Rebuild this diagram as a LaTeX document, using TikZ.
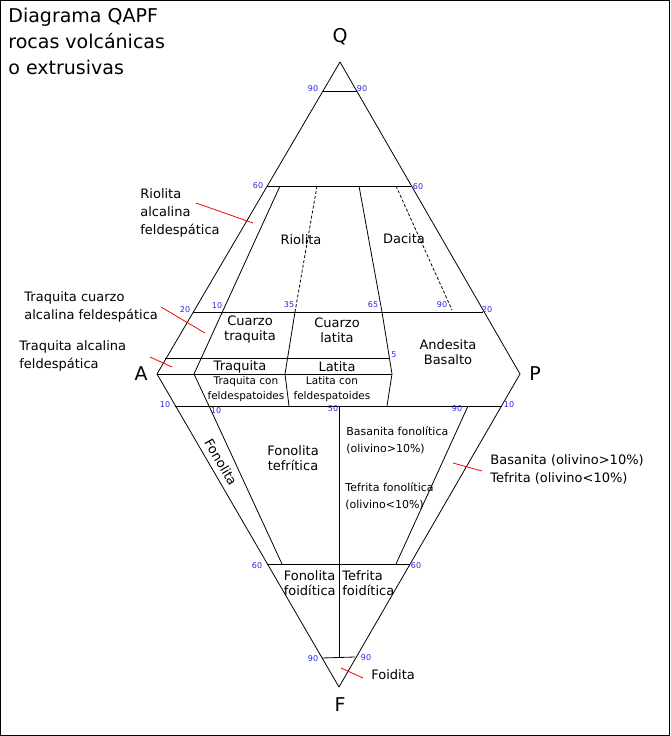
\documentclass[tikz,border=0pt]{standalone}
\usepackage{fontspec}
\setmainfont{DejaVu Sans}
\usetikzlibrary{calc}
\definecolor{numblue}{RGB}{40,40,230}
\begin{document}
\begin{tikzpicture}[
  x=1pt, y=-1pt,
  line join=round, line width=0.8pt,
  field/.style = {font=\fontsize{13}{15}\selectfont, align=center, inner sep=0pt},
  small/.style = {font=\fontsize{10.5}{15}\selectfont, align=center, inner sep=0pt},
  side/.style = {font=\fontsize{13}{18}\selectfont, align=left, anchor=west, inner sep=0pt},
  num/.style = {font=\fontsize{8}{9}\selectfont, text=numblue, inner sep=0pt},
  pole/.style = {font=\fontsize{19}{20}\selectfont, inner sep=0pt},
  pointer/.style = {red, line width=0.8pt},
  subline/.style = {dash pattern=on 3pt off 2pt}
]
  \draw[line width=1pt] (0.5,0.5) rectangle (669.5,735.5);
  \useasboundingbox (0,0) rectangle (670,736);
  % corners
  \coordinate (Q) at (340,62);
  \coordinate (A) at (157,374);
  \coordinate (P) at (520,374);
  \coordinate (F) at (339,687);
  \draw (Q) -- (A) -- (F) -- (P) -- cycle;
  % upper triangle
  \coordinate (q90l) at (323,91);   \coordinate (q90r) at (357,91);
  \coordinate (q60l) at (267,186);  \coordinate (q60r) at (411,186);
  \coordinate (q20l) at (193,312);  \coordinate (q20r) at (483,312);
  \coordinate (b5l) at (165,358);   \coordinate (b5r) at (389,358);
  \coordinate (b0r) at (392,374);
  \draw (q90l) -- (q90r);
  \draw (q60l) -- (q60r);
  \draw (q20l) -- (q20r);
  \draw (b5l) -- (b5r);
  \draw (A) -- (b0r);
  \coordinate (s10t) at (280,186);  \coordinate (s10m) at (194,374);
  \coordinate (s35t) at (295,312);  \coordinate (s35m) at (285,374);
  \coordinate (s65t) at (359,186);  \coordinate (s65m) at (392,374);
  \draw (s10t) -- (s10m);
  \draw (s35t) -- (s35m) -- (289,406);
  \draw (s65t) -- (382,312) -- (s65m) -- (387,406);
  \draw[subline] (317,186) -- (s35t);
  \draw[subline] (396,186) -- (452,310);
  % lower triangle
  \coordinate (f10l) at (175,406);  \coordinate (f10r) at (502,406);
  \coordinate (f60l) at (267,564);  \coordinate (f60r) at (410,564);
  \coordinate (f90l) at (322,658);  \coordinate (f90r) at (355,657);
  \draw (f10l) -- (f10r);
  \draw (f60l) -- (f60r);
  \draw (f90l) -- (f90r);
  \draw (s10m) -- (209,406) -- (282,564);
  \draw (468,406) -- (396,564);
  \draw (339,406) -- (339,658);
  % poles and title
  \node[pole] (nQ) at (340,37) {Q};
  \node[pole] (nA) at (141,374) {A};
  \node[pole] (nP) at (535,374) {P};
  \node[pole] (nF) at (340,705) {F};
  \node[font=\fontsize{19}{26}\selectfont, align=left, anchor=north west, inner sep=0pt] (title) at (8,8)
    {Diagrama QAPF\\rocas volcánicas\\o extrusivas};
  % percentages
  \foreach \x/\y/\t in {313/89/90, 362/89/90, 258/186/60, 418/187/60, 185/310/20, 487/310/20,
      217/306/10, 289/305/35, 373/305/65, 442/305/90, 394/355/5, 165/405/10, 216/411/10,
      333/409/50, 457/409/90, 509/405/10, 257/566/60, 416/566/60, 313/659/90, 366/658/90}
    \node[num] at (\x,\y) {\t};
  % fields
  \node[field] (riolita) at (301,240) {Riolita};
  \node[field] (dacita) at (404,239) {Dacita};
  \node[field] (cztraq) at (250,330) {Cuarzo\\traquita};
  \node[field] (czlat) at (337,330) {Cuarzo\\latita};
  \node[field] (andes) at (448,352) {Andesita\\Basalto};
  \node[field] (traq) at (240,367) {Traquita};
  \node[field] (lat) at (337,367) {Latita};
  \node[small] (traqf) at (246,389) {Traquita con\\feldespatoides};
  \node[small] (latf) at (332,389) {Latita con\\feldespatoides};
  \node[field] (fonteph) at (293,458) {Fonolita\\tefrítica};
  \node[small, font=\fontsize{11}{17}\selectfont, anchor=west, align=left] (basf) at (346,440) {Basanita fonolítica\\(olivino>10\%)};
  \node[small, font=\fontsize{11}{17}\selectfont, anchor=west, align=left] (tefr) at (345,496) {Tefrita fonolítica\\(olivino<10\%)};
  \node[field, anchor=east, align=left] (fonfoid) at (336,583) {Fonolita\\foidítica};
  \node[field, anchor=west, align=left] (tefoid) at (342,583) {Tefrita\\foidítica};
  \node[field, rotate=-60] (fonol) at (221,462) {Fonolita};
  % side labels
  \node[side] (riolalc) at (140,213) {Riolita\\alcalina\\feldespática};
  \node[side] (trcz) at (24,307) {Traquita cuarzo\\alcalina feldespática};
  \node[side] (tralc) at (19,356) {Traquita alcalina\\feldespática};
  \node[side] (basan) at (490,469) {Basanita (olivino>10\%)\\Tefrita (olivino<10\%)};
  \node[side] (foid) at (371,675) {Foidita};
  \draw[pointer] (196,203) -- (253,223);
  \draw[pointer] (161,307) -- (205,333);
  \draw[pointer] (150,357) -- (172,367);
  \draw[pointer] (453,463) -- (482,471);
  \draw[pointer] (341,668) -- (363,678);
\end{tikzpicture}
\end{document}
